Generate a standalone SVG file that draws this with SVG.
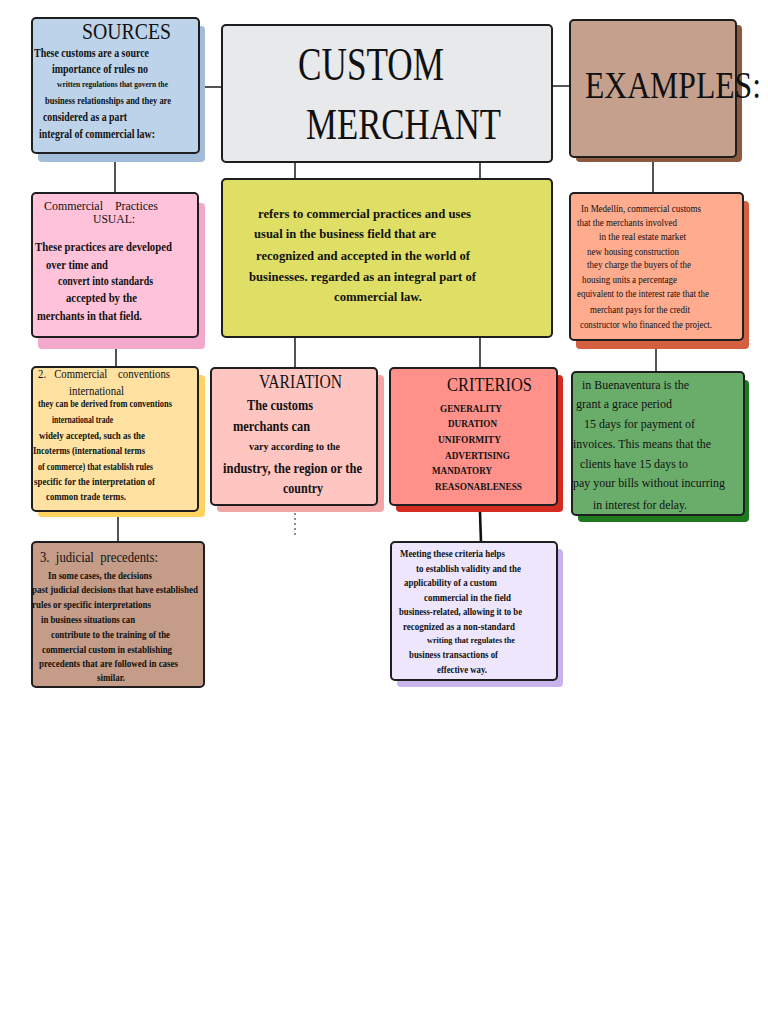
<svg xmlns="http://www.w3.org/2000/svg" width="768" height="1024" viewBox="0 0 768 1024">
<style>
.box{stroke:#1e1e1e;stroke-width:2}
.sh{stroke:none}
.r{font-family:"Liberation Serif","Times New Roman",serif;fill:#111}
.b{font-family:"Liberation Serif","Times New Roman",serif;font-weight:bold;fill:#111}
.p{white-space:pre}
.c{stroke:#2a2a2a;stroke-width:1.6;fill:none}
</style>
<rect width="768" height="1024" fill="#ffffff"/>
<g id="connectors">
<line class="c" x1="199" y1="87" x2="222" y2="87"/>
<line class="c" x1="552" y1="86" x2="570" y2="86"/>
<line class="c" x1="115" y1="153" x2="115" y2="193"/>
<line class="c" x1="116" y1="337" x2="116" y2="367"/>
<line class="c" x1="118" y1="511" x2="118" y2="542"/>
<line class="c" x1="295" y1="162" x2="295" y2="179"/>
<line class="c" x1="480" y1="162" x2="480" y2="179"/>
<line class="c" x1="295" y1="337" x2="295" y2="368"/>
<line class="c" x1="480" y1="337" x2="480" y2="368"/>
<line class="c" x1="653" y1="157" x2="653" y2="193"/>
<line class="c" x1="656" y1="340" x2="656" y2="372"/>
<line x1="295" y1="513" x2="295" y2="538" stroke="#444" stroke-width="1.2" stroke-dasharray="2,3"/>
<line x1="480" y1="512" x2="481" y2="543" stroke="#111" stroke-width="2.6"/>
</g>
<g id="sources">
<rect class="sh" x="38" y="26" width="167" height="136" rx="4" fill="#a3bcd9"/>
<rect class="box" x="32" y="18" width="167" height="135" rx="4" fill="#bdd3ea"/>
<text class="r" x="82" y="39" font-size="24" textLength="89" lengthAdjust="spacingAndGlyphs">SOURCES</text>
<text class="b" x="34" y="57" font-size="11.5" textLength="115" lengthAdjust="spacingAndGlyphs">These customs are a source</text>
<text class="b" x="52" y="73" font-size="11.5" textLength="96" lengthAdjust="spacingAndGlyphs">importance of rules no</text>
<text class="b" x="57" y="87" font-size="7.5" textLength="111" lengthAdjust="spacingAndGlyphs">written regulations that govern the</text>
<text class="b" x="45" y="104" font-size="10" textLength="126" lengthAdjust="spacingAndGlyphs">business relationships and they are</text>
<text class="b" x="43" y="121" font-size="11.5" textLength="84" lengthAdjust="spacingAndGlyphs">considered as a part</text>
<text class="b" x="39" y="138" font-size="11.5" textLength="116" lengthAdjust="spacingAndGlyphs">integral of commercial law:</text>
</g>
<g id="custom-merchant">
<rect class="box" x="222" y="25" width="330" height="137" rx="4" fill="#e8e9eb"/>
<text class="r" x="298" y="80" font-size="46" textLength="146" lengthAdjust="spacingAndGlyphs">CUSTOM</text>
<text class="r" x="306" y="139" font-size="44" textLength="195" lengthAdjust="spacingAndGlyphs">MERCHANT</text>
</g>
<g id="examples">
<rect class="sh" x="576" y="25" width="166" height="137" rx="4" fill="#8c5a40"/>
<rect class="box" x="570" y="20" width="166" height="137" rx="4" fill="#c5a08c"/>
<text class="r" x="585" y="98" font-size="38" textLength="176" lengthAdjust="spacingAndGlyphs">EXAMPLES:</text>
</g>
<g id="usual-practices">
<rect class="sh" x="38" y="203" width="167" height="146" rx="4" fill="#f3a9cb"/>
<rect class="box" x="32" y="193" width="166" height="144" rx="4" fill="#ffc2d9"/>
<text class="r p" x="44" y="210" font-size="13" textLength="114" lengthAdjust="spacingAndGlyphs">Commercial    Practices</text>
<text class="r" x="93" y="223" font-size="13" textLength="42" lengthAdjust="spacingAndGlyphs">USUAL:</text>
<text class="b" x="35" y="251" font-size="12" textLength="137" lengthAdjust="spacingAndGlyphs">These practices are developed</text>
<text class="b" x="46" y="269" font-size="12" textLength="62" lengthAdjust="spacingAndGlyphs">over time and</text>
<text class="b" x="58" y="285" font-size="12" textLength="95" lengthAdjust="spacingAndGlyphs">convert into standards</text>
<text class="b" x="66" y="302" font-size="12" textLength="71" lengthAdjust="spacingAndGlyphs">accepted by the</text>
<text class="b" x="37" y="320" font-size="12" textLength="105" lengthAdjust="spacingAndGlyphs">merchants in that field.</text>
</g>
<g id="definition">
<rect class="box" x="222" y="179" width="330" height="158" rx="4" fill="#dfdf66"/>
<text class="b" x="258" y="218" font-size="13" textLength="213" lengthAdjust="spacingAndGlyphs">refers to commercial practices and uses</text>
<text class="b" x="254" y="238" font-size="13" textLength="182" lengthAdjust="spacingAndGlyphs">usual in the business field that are</text>
<text class="b" x="256" y="260" font-size="13" textLength="214" lengthAdjust="spacingAndGlyphs">recognized and accepted in the world of</text>
<text class="b" x="249" y="281" font-size="13" textLength="227" lengthAdjust="spacingAndGlyphs">businesses. regarded as an integral part of</text>
<text class="b" x="334" y="301" font-size="13" textLength="88" lengthAdjust="spacingAndGlyphs">commercial law.</text>
</g>
<g id="medellin">
<rect class="sh" x="576" y="201" width="173" height="148" rx="4" fill="#d4603f"/>
<rect class="box" x="570" y="193" width="173" height="147" rx="4" fill="#ffab8e"/>
<text class="r" x="581" y="212" font-size="10" textLength="120" lengthAdjust="spacingAndGlyphs">In Medellín, commercial customs</text>
<text class="r" x="577" y="226" font-size="10" textLength="100" lengthAdjust="spacingAndGlyphs">that the merchants involved</text>
<text class="r" x="599" y="240" font-size="10" textLength="87" lengthAdjust="spacingAndGlyphs">in the real estate market</text>
<text class="r" x="587" y="255" font-size="10" textLength="92" lengthAdjust="spacingAndGlyphs">new housing construction</text>
<text class="r" x="587" y="268" font-size="10" textLength="104" lengthAdjust="spacingAndGlyphs">they charge the buyers of the</text>
<text class="r" x="582" y="283" font-size="10" textLength="95" lengthAdjust="spacingAndGlyphs">housing units a percentage</text>
<text class="r" x="577" y="297" font-size="10" textLength="132" lengthAdjust="spacingAndGlyphs">equivalent to the interest rate that the</text>
<text class="r" x="590" y="313" font-size="10" textLength="100" lengthAdjust="spacingAndGlyphs">merchant pays for the credit</text>
<text class="r" x="580" y="328" font-size="10" textLength="132" lengthAdjust="spacingAndGlyphs">constructor who financed the project.</text>
</g>
<g id="conventions">
<rect class="sh" x="38" y="375" width="167" height="142" rx="4" fill="#ffd35f"/>
<rect class="box" x="32" y="367" width="166" height="144" rx="4" fill="#ffe1a2"/>
<text class="r p" x="38" y="378" font-size="12.5" textLength="132" lengthAdjust="spacingAndGlyphs">2.   Commercial    conventions</text>
<text class="r" x="69" y="395" font-size="12.5" textLength="55" lengthAdjust="spacingAndGlyphs">international</text>
<text class="b" x="38" y="407" font-size="9.5" textLength="134" lengthAdjust="spacingAndGlyphs">they can be derived from conventions</text>
<text class="b" x="52" y="423" font-size="9.5" textLength="61" lengthAdjust="spacingAndGlyphs">international trade</text>
<text class="b" x="39" y="439" font-size="9.5" textLength="106" lengthAdjust="spacingAndGlyphs">widely accepted, such as the</text>
<text class="b" x="33" y="454" font-size="9.5" textLength="112" lengthAdjust="spacingAndGlyphs">Incoterms (international terms</text>
<text class="b" x="38" y="470" font-size="9.5" textLength="115" lengthAdjust="spacingAndGlyphs">of commerce) that establish rules</text>
<text class="b" x="34" y="485" font-size="9.5" textLength="121" lengthAdjust="spacingAndGlyphs">specific for the interpretation of</text>
<text class="b" x="46" y="500" font-size="9.5" textLength="80" lengthAdjust="spacingAndGlyphs">common trade terms.</text>
</g>
<g id="variation">
<rect class="sh" x="217" y="375" width="167" height="137" rx="4" fill="#f2a6a6"/>
<rect class="box" x="211" y="368" width="166" height="137" rx="4" fill="#ffc5c1"/>
<text class="r" x="259" y="388" font-size="18" textLength="83" lengthAdjust="spacingAndGlyphs">VARIATION</text>
<text class="b" x="247" y="410" font-size="14" textLength="66" lengthAdjust="spacingAndGlyphs">The customs</text>
<text class="b" x="233" y="431" font-size="14" textLength="77" lengthAdjust="spacingAndGlyphs">merchants can</text>
<text class="b" x="249" y="450" font-size="10" textLength="91" lengthAdjust="spacingAndGlyphs">vary according to the</text>
<text class="b" x="223" y="473" font-size="14" textLength="139" lengthAdjust="spacingAndGlyphs">industry, the region or the</text>
<text class="b" x="283" y="493" font-size="14" textLength="40" lengthAdjust="spacingAndGlyphs">country</text>
</g>
<g id="criterios">
<rect class="sh" x="396" y="375" width="167" height="137" rx="4" fill="#d42b21"/>
<rect class="box" x="390" y="368" width="167" height="137" rx="4" fill="#ff918a"/>
<text class="r" x="447" y="391" font-size="18" textLength="85" lengthAdjust="spacingAndGlyphs">CRITERIOS</text>
<text class="b" x="440" y="412" font-size="10.5" textLength="62" lengthAdjust="spacingAndGlyphs">GENERALITY</text>
<text class="b" x="448" y="427" font-size="10.5" textLength="49" lengthAdjust="spacingAndGlyphs">DURATION</text>
<text class="b" x="438" y="443" font-size="10.5" textLength="63" lengthAdjust="spacingAndGlyphs">UNIFORMITY</text>
<text class="b" x="445" y="459" font-size="10.5" textLength="65" lengthAdjust="spacingAndGlyphs">ADVERTISING</text>
<text class="b" x="432" y="474" font-size="10.5" textLength="60" lengthAdjust="spacingAndGlyphs">MANDATORY</text>
<text class="b" x="435" y="490" font-size="10.5" textLength="87" lengthAdjust="spacingAndGlyphs">REASONABLENESS</text>
</g>
<g id="buenaventura">
<rect class="sh" x="578" y="380" width="171" height="142" rx="4" fill="#1f7a1f"/>
<rect class="box" x="572" y="372" width="172" height="143" rx="4" fill="#6aad6b"/>
<text class="r" x="582" y="389" font-size="13" textLength="107" lengthAdjust="spacingAndGlyphs">in Buenaventura is the</text>
<text class="r" x="576" y="408" font-size="13" textLength="96" lengthAdjust="spacingAndGlyphs">grant a grace period</text>
<text class="r" x="584" y="428" font-size="13" textLength="111" lengthAdjust="spacingAndGlyphs">15 days for payment of</text>
<text class="r" x="573" y="448" font-size="13" textLength="138" lengthAdjust="spacingAndGlyphs">invoices. This means that the</text>
<text class="r" x="580" y="468" font-size="13" textLength="108" lengthAdjust="spacingAndGlyphs">clients have 15 days to</text>
<text class="r" x="573" y="487" font-size="13" textLength="152" lengthAdjust="spacingAndGlyphs">pay your bills without incurring</text>
<text class="r" x="593" y="509" font-size="13" textLength="94" lengthAdjust="spacingAndGlyphs">in interest for delay.</text>
</g>
<g id="judicial">
<rect class="box" x="32" y="542" width="172" height="145" rx="4" fill="#c49c88"/>
<text class="r p" x="40" y="562" font-size="15" textLength="118" lengthAdjust="spacingAndGlyphs">3.  judicial  precedents:</text>
<text class="b" x="48" y="579" font-size="10.5" textLength="104" lengthAdjust="spacingAndGlyphs">In some cases, the decisions</text>
<text class="b" x="32" y="593" font-size="10.5" textLength="166" lengthAdjust="spacingAndGlyphs">past judicial decisions that have established</text>
<text class="b" x="32" y="608" font-size="10.5" textLength="119" lengthAdjust="spacingAndGlyphs">rules or specific interpretations</text>
<text class="b" x="41" y="623" font-size="10.5" textLength="94" lengthAdjust="spacingAndGlyphs">in business situations can</text>
<text class="b" x="51" y="638" font-size="10.5" textLength="119" lengthAdjust="spacingAndGlyphs">contribute to the training of the</text>
<text class="b" x="42" y="653" font-size="10.5" textLength="130" lengthAdjust="spacingAndGlyphs">commercial custom in establishing</text>
<text class="b" x="39" y="667" font-size="10.5" textLength="139" lengthAdjust="spacingAndGlyphs">precedents that are followed in cases</text>
<text class="b" x="97" y="681" font-size="10.5" textLength="28" lengthAdjust="spacingAndGlyphs">similar.</text>
</g>
<g id="validity">
<rect class="sh" x="397" y="549" width="166" height="138" rx="4" fill="#c9b3ec"/>
<rect class="box" x="391" y="542" width="166" height="138" rx="4" fill="#eee6fd"/>
<text class="b" x="400" y="557" font-size="10" textLength="105" lengthAdjust="spacingAndGlyphs">Meeting these criteria helps</text>
<text class="b" x="416" y="572" font-size="10" textLength="105" lengthAdjust="spacingAndGlyphs">to establish validity and the</text>
<text class="b" x="404" y="586" font-size="10" textLength="93" lengthAdjust="spacingAndGlyphs">applicability of a custom</text>
<text class="b" x="424" y="601" font-size="10" textLength="87" lengthAdjust="spacingAndGlyphs">commercial in the field</text>
<text class="b" x="399" y="615" font-size="10" textLength="123" lengthAdjust="spacingAndGlyphs">business-related, allowing it to be</text>
<text class="b" x="403" y="630" font-size="10" textLength="112" lengthAdjust="spacingAndGlyphs">recognized as a non-standard</text>
<text class="b" x="427" y="643" font-size="7.5" textLength="88" lengthAdjust="spacingAndGlyphs">writing that regulates the</text>
<text class="b" x="409" y="658" font-size="10" textLength="89" lengthAdjust="spacingAndGlyphs">business transactions of</text>
<text class="b" x="437" y="673" font-size="10" textLength="50" lengthAdjust="spacingAndGlyphs">effective way.</text>
</g>
</svg>
